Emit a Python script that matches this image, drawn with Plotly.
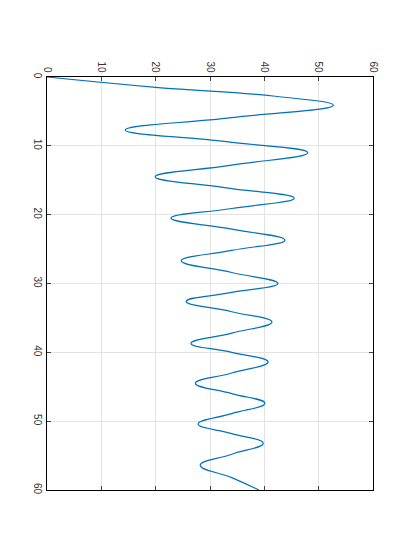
import plotly.graph_objects as go

# sample positions (time) and values
t_vals = [0, 1.5, 2.8, 4.1, 5.9, 7.7, 9.4, 11.0, 12.8, 14.5, 16.1, 17.6, 19.1, 20.5, 22.1, 23.7,
          25.2, 26.7, 28.4, 30.0, 31.3, 32.6, 34.1, 35.6, 37.2, 38.7, 40.0, 41.4, 43.0, 44.5,
          46.0, 47.4, 48.9, 50.4, 51.8, 53.2, 54.8, 56.4, 58.2, 60.0]
y_vals = [0, 20, 42, 52.7, 34, 14.4, 33, 48, 34, 19.9, 33, 45.5, 34, 22.8, 34, 43.8,
          34, 24.7, 34, 42.5, 34, 25.6, 34, 41.4, 34, 26.5, 34, 40.7, 34, 27.3,
          34, 40.1, 34, 27.8, 34, 39.8, 34, 28.2, 34, 39.0]
ticks = [0, 10, 20, 30, 40, 50, 60]

fig = go.Figure()
fig.add_trace(go.Scatter(x=y_vals, y=t_vals, mode="lines",
                         line=dict(color="#0072BD", width=1.2, shape="spline", smoothing=1.3)))

ax = dict(range=[0, 60], tickvals=ticks, tickangle=90, showgrid=True, gridcolor="#e3e3e3",
          zeroline=False, showline=True, linecolor="black", mirror="ticks", ticks="inside",
          ticklen=4, tickfont=dict(family="Liberation Sans", size=10, color="#333"))
fig.update_xaxes(**ax, side="top")
fig.update_yaxes(**ax)
fig.update_yaxes(range=[60, 0])

fig.update_layout(
    width=399, height=535, showlegend=False,
    margin=dict(l=39, r=34, t=69, b=53),
    plot_bgcolor="white", paper_bgcolor="white",
)
fig.write_html("out.html")
